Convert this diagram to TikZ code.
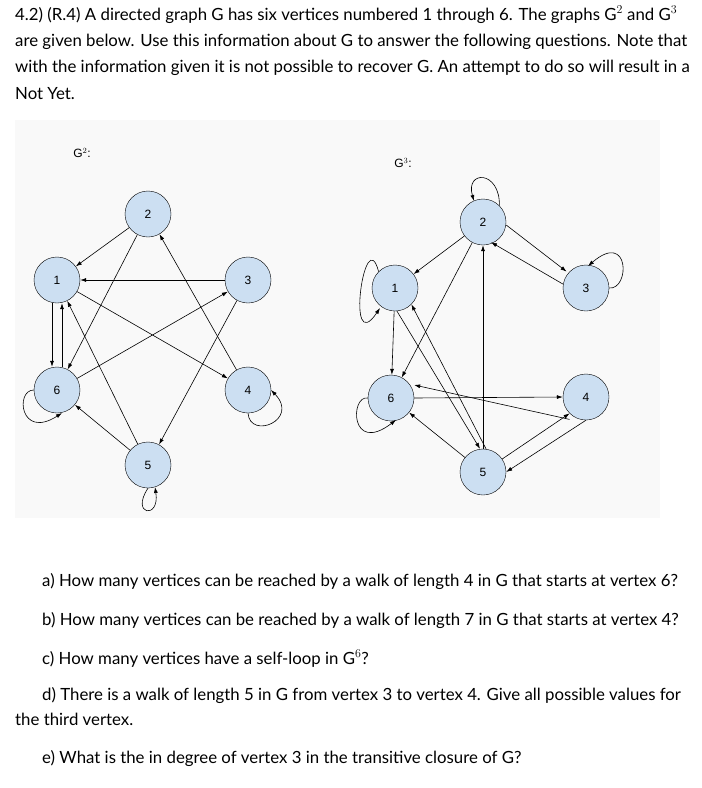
\documentclass[tikz,border=0pt]{standalone}
\usepackage{fontspec}
\setmainfont{Lato}
\newfontfamily\arialf{Liberation Sans}
\usetikzlibrary{arrows.meta}
\begin{document}
\begin{tikzpicture}[x=1pt,y=-1pt,
  v/.style={circle,draw,fill={rgb,255:red,204;green,223;blue,242},minimum size=46pt,inner sep=0pt,font=\arialf\fontsize{12}{12}\selectfont},
  e/.style={-{Latex[length=6pt,width=4pt]},line width=0.6pt},
  txt/.style={anchor=base west,inner sep=0pt,font=\fontsize{16.8}{20}\selectfont}]
\useasboundingbox (0,0) rectangle (702,788);
\fill[gray!5] (15,120) rectangle (660,518);
\node[txt] (t1) at (15,20) {4.2) (R.4) A directed graph G has six vertices numbered 1 through 6. The graphs G$^2$ and G$^3$};
\node[txt] (t2) at (15,46) {are given below. Use this information about G to answer the following questions. Note that};
\node[txt] (t3) at (15,72) {with the information given it is not possible to recover G. An attempt to do so will result in a};
\node[txt] (t4) at (15,99) {Not Yet.};
\node[font=\arialf\fontsize{12}{12}\selectfont] (L2) at (82,153) {G$^2$:};
\node[font=\arialf\fontsize{12}{12}\selectfont] (L3) at (403,163) {G$^3$:};
% G2
\node[v] (a2) at (148,214) {2};
\node[v] (a1) at (57,280) {1};
\node[v] (a3) at (248,280) {3};
\node[v] (a6) at (57,390) {6};
\node[v] (a4) at (248,390) {4};
\node[v] (a5) at (148,465) {5};
\draw[e] (a2)--(a1); \draw[e] (a2)--(a6); \draw[e] (a3)--(a1); \draw[e] (a6)--(a3);
\draw[e] ([xshift=-5pt]a1.south)--([xshift=-5pt]a6.north);
\draw[e] ([xshift=5pt]a6.north)--([xshift=5pt]a1.south);
\draw[e] (a1)--(a4); \draw[e] (a4)--(a2); \draw[e] (a3)--(a5); \draw[e] (a5)--(a1); \draw[e] (a5)--(a6);
\draw[e] (a6.west) .. controls (15,390) and (20,440) .. (62,413);
\draw[e] (a4.south) .. controls (250,440) and (300,420) .. (271,390);
\draw[e] (a5.south) .. controls (130,515) and (160,520) .. (155,487);
% G3
\node[v] (b2) at (483,222) {2};
\node[v] (b1) at (395,288) {1};
\node[v] (b3) at (586,288) {3};
\node[v] (b6) at (391,398) {6};
\node[v] (b4) at (586,397) {4};
\node[v] (b5) at (483,472) {5};
\draw[e] (b2)--(b1); \draw[e] (b2)--(b6);
\draw[e] ([yshift=-3pt]b2.east)--([xshift=-3pt]b3.north west);
\draw[e] ([yshift=4pt]b3.west)--([xshift=8pt,yshift=3pt]b2.south);
\draw[e] (b1)--(b6);
\draw[e] ([xshift=2pt]b1.south)--([xshift=-3pt]b5.north);
\draw[e] ([xshift=3pt]b5.north)--(b1.south east);
\draw[e] (b5)--(b2);
\draw[e] (b6.east)--(b4.west);
\draw[e] ([yshift=-6pt]b4.south west)--([yshift=13pt]b6.east);
\draw[e] (b5)--(b6);
\draw[e] (b5)--(b4.south west);
\draw[e] (b4.south)--(b5.east);
\draw[e] (b1.north west) .. controls (365,220) and (345,360) .. (380,308);
\draw[e] (b2.north east) .. controls (500,170) and (465,170) .. (474,201);
\draw[e] (b3.east) .. controls (630,290) and (630,230) .. (588,266);
\draw[e] (b6.west) .. controls (350,395) and (350,455) .. (396,420);
\node[txt] (q1) at (42,586) {a) How many vertices can be reached by a walk of length 4 in G that starts at vertex 6?};
\node[txt] (q2) at (42,625) {b) How many vertices can be reached by a walk of length 7 in G that starts at vertex 4?};
\node[txt] (q3) at (42,664) {c) How many vertices have a self-loop in G$^6$?};
\node[txt] (q4) at (42,700) {d) There is a walk of length 5 in G from vertex 3 to vertex 4. Give all possible values for};
\node[txt] (q5) at (15,725) {the third vertex.};
\node[txt] (q6) at (42,763) {e) What is the in degree of vertex 3 in the transitive closure of G?};
\end{tikzpicture}
\end{document}
